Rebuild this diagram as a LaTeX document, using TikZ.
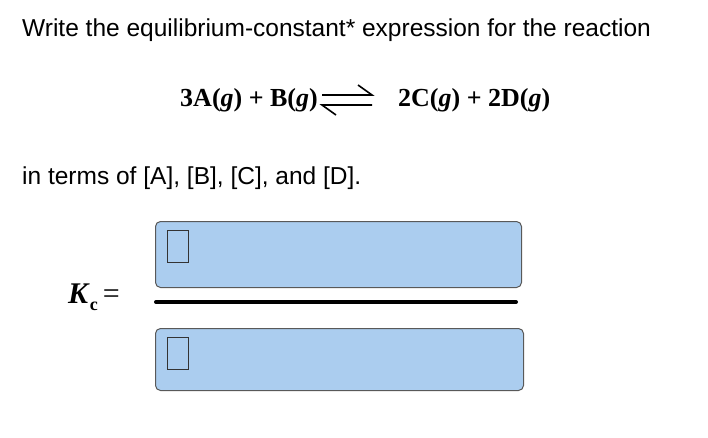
\documentclass[tikz,border=0pt]{standalone}
\usepackage{fontspec}
\setmainfont{Liberation Sans}
\newfontfamily\tms{Liberation Serif}
\begin{document}
\begin{tikzpicture}[x=1pt,y=-1pt,
  ansbox/.style={draw=black!65,fill={rgb,255:red,171;green,205;blue,239},rounded corners=5pt,line width=1pt},
  slot/.style={draw=black!80,fill={rgb,255:red,171;green,205;blue,239},line width=0.8pt},
  txt/.style={anchor=west,inner sep=0pt,font=\fontsize{24.5}{28}\selectfont}]
\useasboundingbox (0,0) rectangle (708,438);
\node[txt] (t1) at (22,30) {Write the equilibrium-constant* expression for the reaction};
\node[anchor=east,inner sep=0pt,font=\tms\bfseries\fontsize{26}{28}\selectfont] (lhs) at (318,100) {3A(\textit{g}) + B(\textit{g})};
\node[anchor=west,inner sep=0pt,font=\tms\bfseries\fontsize{26}{28}\selectfont] (rhs) at (398,100) {2C(\textit{g}) + 2D(\textit{g})};
\coordinate (a1) at (322,95); \coordinate (a2) at (372,95);
\coordinate (b1) at (322,105); \coordinate (b2) at (372,105);
\draw[line width=1.6pt] (a1) -- (a2) -- ++(-14,-10);
\draw[line width=1.6pt] (b2) -- (b1) -- ++(14,10);
\node[txt] (t2) at (22,178) {in terms of [A], [B], [C], and [D].};
\node[ansbox,minimum width=366pt,minimum height=66pt,anchor=north west] (num) at (155,221) {};
\node[ansbox,minimum width=368pt,minimum height=62pt,anchor=north west] (den) at (155,328) {};
\node[slot,minimum width=21pt,minimum height=32pt,anchor=north west,inner sep=0pt] (s1) at (167,230) {};
\node[slot,minimum width=21pt,minimum height=32pt,anchor=north west,inner sep=0pt] (s2) at (167,337) {};
\coordinate (f1) at (156,302); \coordinate (f2) at (516,302);
\draw[line width=4pt,line cap=round] (f1) -- (f2);
\node[anchor=west,inner sep=0pt,font=\tms\fontsize{30}{32}\selectfont] (kc) at (68,297) {\textbf{\textit{K}}\raisebox{-7pt}{\bfseries\fontsize{18}{20}\selectfont c}\,=};
\end{tikzpicture}
\end{document}
